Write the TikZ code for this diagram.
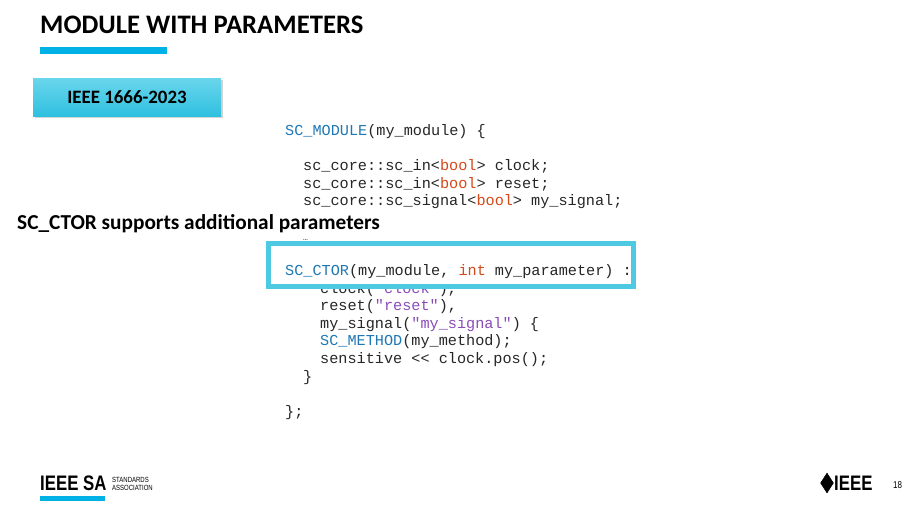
\documentclass[tikz,border=0pt]{standalone}
\usepackage{fontspec}
\setmainfont{Carlito}
\newfontfamily\codefont{Liberation Mono}
\newfontfamily\condfont{Liberation Sans}[FakeStretch=0.8]
\usetikzlibrary{shadows,shapes.geometric}
\definecolor{kw}{HTML}{1F78B4}
\definecolor{ty}{HTML}{D2491A}
\definecolor{st}{HTML}{8B4CB8}
\definecolor{ieeeblue}{HTML}{00B1E6}
\definecolor{hl}{HTML}{4DC9E2}
\definecolor{btop}{HTML}{6AD6EC}
\definecolor{bbot}{HTML}{2FC0E0}
\tikzset{code/.style={anchor=base west,inner sep=0pt,font=\codefont\fontsize{15.2}{16}\selectfont,text=black!85}}
\begin{document}
\begin{tikzpicture}[x=1pt,y=-1pt]
\useasboundingbox (0,0) rectangle (919,512);
\node[anchor=base west,inner sep=0pt,font=\bfseries\fontsize{26.7}{30}\selectfont] (title) at (40,33) {MODULE WITH PARAMETERS};
\fill[ieeeblue] (40,47) rectangle (167,54);
\node[draw=none,minimum width=188pt,minimum height=38pt,top color=btop,bottom color=bbot,
  drop shadow={shadow xshift=1.5pt,shadow yshift=-2pt,opacity=0.35},font=\bfseries\fontsize{18.9}{20}\selectfont] (std) at (127,97) {IEEE 1666-2023};
\node[code] (l1) at (285,135) {\textcolor{kw}{SC\_MODULE}(my\_module) \{};
\node[code] (l2) at (303,170) {sc\_core::sc\_in<\textcolor{ty}{bool}> clock;};
\node[code] (l3) at (303,188) {sc\_core::sc\_in<\textcolor{ty}{bool}> reset;};
\node[code] (l4) at (303,205) {sc\_core::sc\_signal<\textcolor{ty}{bool}> my\_signal;};
\node[code] (l5) at (303,240) {\fontsize{8}{8}\selectfont …};
\node[code] (l7) at (320,293) {clock(\textcolor{st}{"clock"}),};
\draw[hl,line width=5pt,fill=white] (268,243) rectangle (633,286);
\node[code] (l6) at (285,275) {\textcolor{kw}{SC\_CTOR}(my\_module, \textcolor{ty}{int} my\_parameter) :};
\node[code] (l8) at (320,310) {reset(\textcolor{st}{"reset"}),};
\node[code] (l9) at (320,328) {my\_signal(\textcolor{st}{"my\_signal"}) \{};
\node[code] (l10) at (320,345) {\textcolor{kw}{SC\_METHOD}(my\_method);};
\node[code] (l11) at (320,363) {sensitive << clock.pos();};
\node[code] (l12) at (303,381) {\}};
\node[code] (l13) at (285,416) {\};};
\node[anchor=base west,inner sep=0pt,font=\bfseries\fontsize{21.3}{24}\selectfont] (head) at (17,229) {SC\_CTOR supports additional parameters};
\node[anchor=base west,inner sep=0pt,font=\condfont\bfseries\fontsize{21}{22}\selectfont] (sa) at (40,490) {IEEE SA};
\node[anchor=west,inner sep=0pt,align=left,font=\condfont\fontsize{7.5}{7.5}\selectfont] (saa) at (112,484) {STANDARDS\\ASSOCIATION};
\fill[ieeeblue] (40,496) rectangle (105,501);
\node[draw=black,fill=black,diamond,inner sep=0pt,minimum width=13pt,minimum height=20pt] (dia) at (827,483) {};
\node[anchor=base west,inner sep=0pt,font=\condfont\bfseries\fontsize{21}{22}\selectfont] (ieee) at (834,490) {IEEE};
\node[anchor=base west,inner sep=0pt,font=\condfont\fontsize{10}{10}\selectfont] (pg) at (893,488) {18};
\end{tikzpicture}
\end{document}
